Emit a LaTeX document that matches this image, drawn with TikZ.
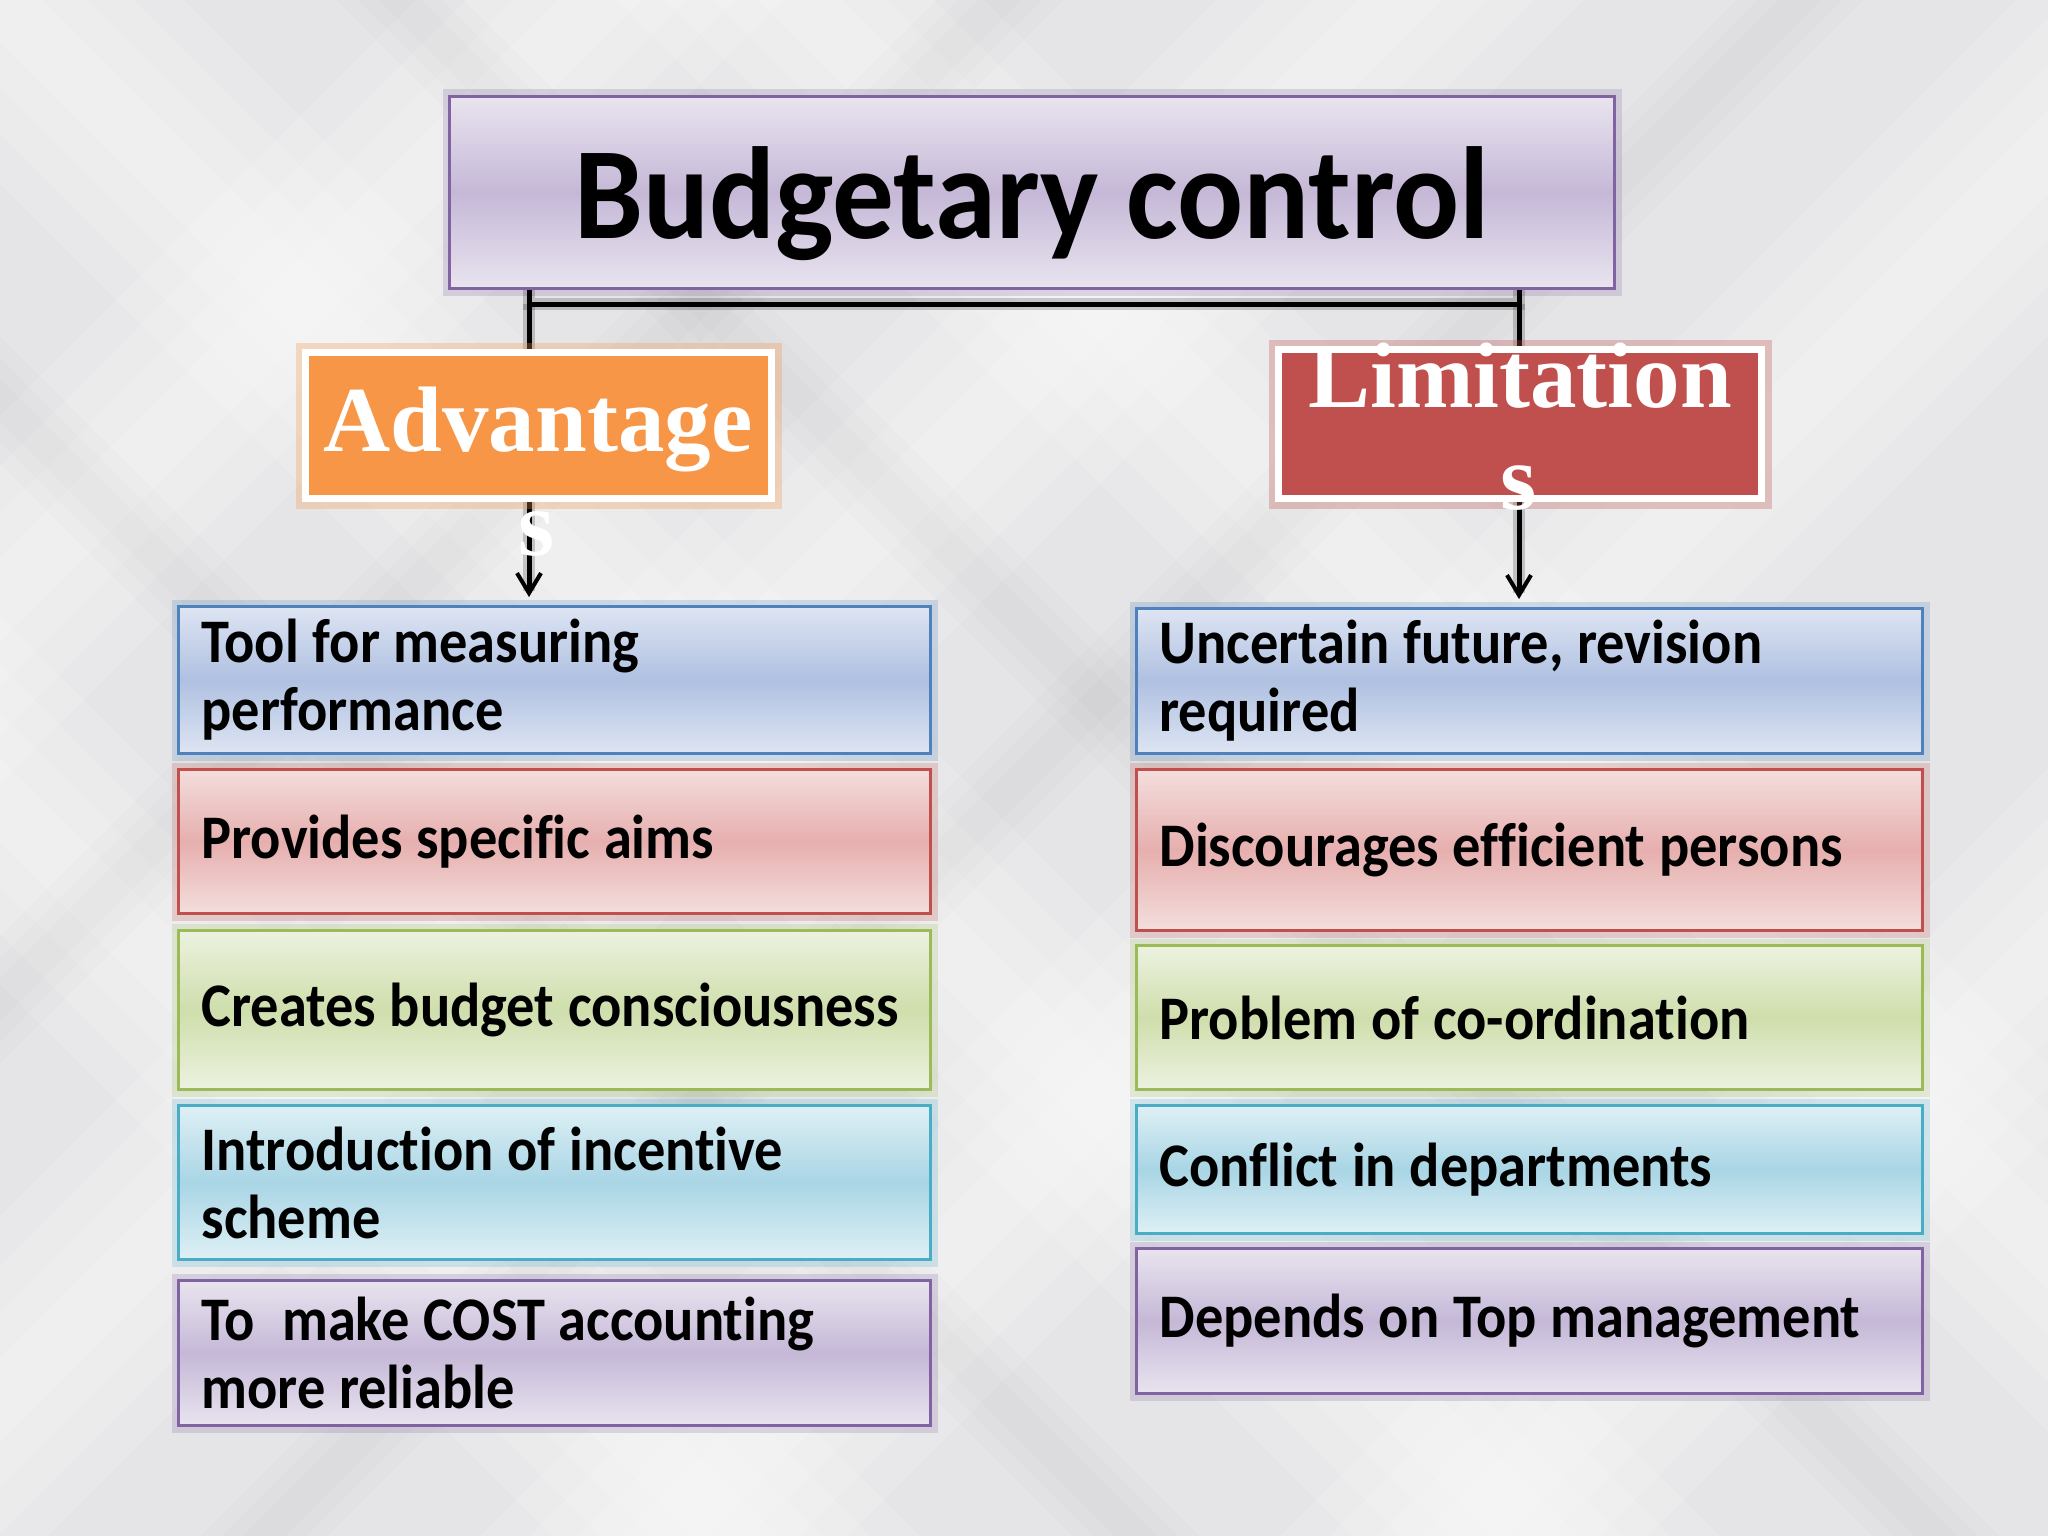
\documentclass[tikz,border=0pt]{standalone}
\usepackage{fontspec}
\setsansfont{Carlito}
\newfontfamily\itemfont{Carlito}[FakeStretch=0.91, Ligatures=NoCommon]
\newfontfamily\titlefont{Carlito}[FakeStretch=0.94]
\newfontfamily\hdrfont{Liberation Serif}
\usetikzlibrary{arrows.meta}
\definecolor{bgc}{HTML}{E5E5E7}
\definecolor{blueB}{HTML}{4F81BD}\definecolor{blueT}{HTML}{DEE5F3}\definecolor{blueM}{HTML}{AFC0E1}
\definecolor{redB}{HTML}{C0504D}\definecolor{redT}{HTML}{F3DEDD}\definecolor{redM}{HTML}{E6AFAE}
\definecolor{greenB}{HTML}{9BBB59}\definecolor{greenT}{HTML}{ECF2E0}\definecolor{greenM}{HTML}{CFDEAC}
\definecolor{aquaB}{HTML}{4BACC6}\definecolor{aquaT}{HTML}{DEF0F5}\definecolor{aquaM}{HTML}{A9D5E5}
\definecolor{purB}{HTML}{8064A2}\definecolor{purT}{HTML}{E9E4EF}\definecolor{purM}{HTML}{C5B8D7}
\definecolor{orangeC}{HTML}{F79646}
\definecolor{redC}{HTML}{C0504D}
\newcommand{\itemfontset}{\itemfont\bfseries\fontsize{62}{68}\selectfont\spaceskip=0.22em plus 0.05em minus 0.02em\relax}
\tikzset{
  itembox/.style={anchor=north west, draw=#1B, line width=3pt,
    top color=#1T, bottom color=#1T, middle color=#1M,
    inner xsep=23pt, inner ysep=0pt, align=flush left, text=black,
    font=\itemfontset,
    preaction={draw=#1B, line width=14pt, draw opacity=0.22}},
  hdrbox/.style={draw=white, line width=7pt, fill=#1,
    preaction={draw=#1, line width=20pt, draw opacity=0.3}},
  hdrtext/.style={anchor=base, text=white, inner sep=0pt,
    font=\hdrfont\bfseries\fontsize{93}{104}\selectfont},
  conn/.style={draw=black, line width=5pt,
    preaction={draw=black, line width=12pt, draw opacity=0.18}},
}
\begin{document}
\begin{tikzpicture}[x=1pt,y=-1pt]
\useasboundingbox (0,0) rectangle (2048,1536);
% background
\fill[bgc] (0,0) rectangle (2048,1536);
\begin{scope}[white, draw opacity=0.14]
  \foreach \w in {260,190,120,60} {
    \foreach \x in {700,1500,2300,3100} {\draw[line width=\w pt] (\x,-100) -- (\x-1736,1636);}
    \foreach \x in {-900,-100,700} {\draw[line width=\w pt] (\x,-100) -- (\x+1736,1636);}
  }
\end{scope}
\begin{scope}[black, draw opacity=0.012]
  \foreach \w in {90,60,30} {
    \foreach \x in {1100,1900} {\draw[line width=\w pt] (\x,-100) -- (\x-1736,1636);}
    \foreach \x in {-500,300} {\draw[line width=\w pt] (\x,-100) -- (\x+1736,1636);}
  }
\end{scope}

% title
\node[draw=purB, line width=3pt, top color=purT, bottom color=purT, middle color=purM,
      minimum width=1165pt, minimum height=192pt, text height=100pt, text depth=9pt,
      inner sep=0pt, font=\titlefont\bfseries\fontsize{131}{150}\selectfont,
      preaction={draw=purB, line width=14pt, draw opacity=0.22}]
      (title) at (1032,192.5) {Budgetary control};

% items left
\node[itembox=blue, text width=706pt, minimum height=147pt] (lb1) at (177,605) {Tool for measuring\\performance};
\node[itembox=red, text width=706pt, minimum height=144pt] (lb2) at (177,768) {Provides specific aims};
\node[itembox=green, text width=706pt, minimum height=159pt] (lb3) at (177,929) {Creates budget consciousness};
\node[itembox=aqua, text width=706pt, minimum height=154pt] (lb4) at (177,1104) {Introduction of incentive\\scheme};
\node[itembox=pur, text width=706pt, minimum height=145pt] (lb5) at (177,1279) {To\ \ make COST accounting\\more reliable};

% items right
\node[itembox=blue, text width=740pt, minimum height=145pt] (rb1) at (1135,607) {Uncertain future, revision\\required};
\node[itembox=red, text width=740pt, minimum height=161pt] (rb2) at (1135,768) {Discourages efficient persons};
\node[itembox=green, text width=740pt, minimum height=144pt] (rb3) at (1135,944) {Problem of co-ordination};
\node[itembox=aqua, text width=740pt, minimum height=128pt] (rb4) at (1135,1104) {Conflict in departments};
\node[itembox=pur, text width=740pt, minimum height=145pt] (rb5) at (1135,1247) {Depends on Top management};

% connectors
\coordinate (j1) at (529,304);
\coordinate (j2) at (1519,304);
\draw[conn] (title.south -| j1) -- (j1) -- (j2) -- (title.south -| j2);
\draw[conn, -{Straight Barb[length=20pt,width=24pt,line width=4pt]}, shorten >=8pt] (j1) -- (lb1.north -| j1);
\draw[conn, -{Straight Barb[length=20pt,width=24pt,line width=4pt]}, shorten >=8pt] (j2) -- (rb1.north -| j2);

% headers
\node[hdrbox=orangeC, minimum width=466pt, minimum height=146pt] (adv) at (538.5,425.5) {};
\node[hdrbox=redC, minimum width=483pt, minimum height=149pt] (lim) at (1520,424) {};
\node[hdrtext] (advt1) at (538,451) {Advantage};
\node[hdrtext] (advt2) at (537,555) {s};
\node[hdrtext] (limt1) at (1520,407) {Limitation};
\node[hdrtext] (limt2) at (1519,509) {s};
\end{tikzpicture}
\end{document}
